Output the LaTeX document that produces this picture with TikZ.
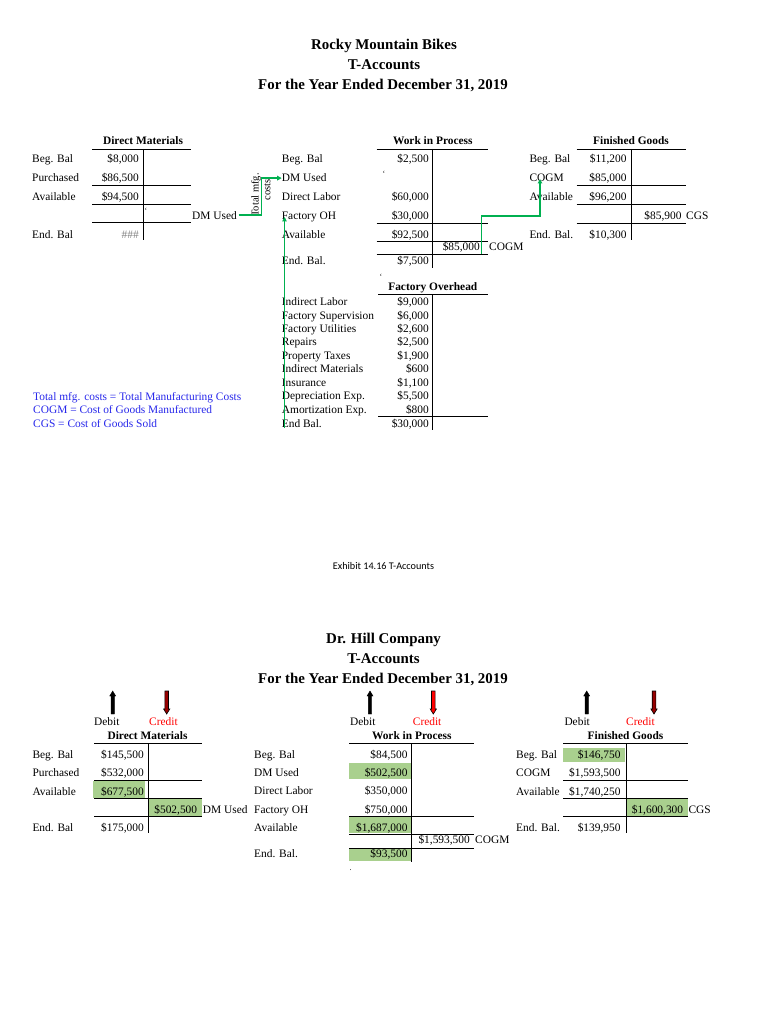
\documentclass[tikz,border=0pt]{standalone}
\usepackage{fontspec}
\setmainfont{Liberation Serif}
\newfontfamily\calibfont{Carlito}
\usetikzlibrary{arrows.meta}
\definecolor{xlgreen}{RGB}{169,208,142}
\definecolor{arrgreen}{RGB}{0,176,80}
\definecolor{legblue}{RGB}{40,40,235}
\definecolor{credred}{RGB}{255,0,0}
\definecolor{darkcred}{RGB}{150,0,0}
\newcommand{\bodyfs}{\fontsize{11.4}{13.5}\selectfont}
\begin{document}
\begin{tikzpicture}[x=1pt,y=-1pt,
  every node/.style={inner sep=0pt},
  lbl/.style={anchor=base west,font=\bodyfs},
  val/.style={anchor=base east,font=\bodyfs},
  hdr/.style={anchor=base,font=\bodyfs\bfseries},
  ttl/.style={anchor=base,font=\fontsize{14.9}{17}\selectfont\bfseries},
  leg/.style={anchor=base west,font=\bodyfs,text=legblue},
  tick/.style={font=\fontsize{8}{9}\selectfont},
  tline/.style={line width=0.7pt},
  gconn/.style={draw=arrgreen,line width=1.4pt,-{Triangle[length=4.5pt,width=4.5pt]}},
  cellfill/.style={fill=xlgreen},
  uparr/.pic={\filldraw[fill=black,draw=black,line width=0.4pt] (-1.7,0) -- (-1.7,-18) -- (-3,-18) -- (0,-23) -- (3,-18) -- (1.7,-18) -- (1.7,0) -- cycle;},
  dnarr/.pic={\filldraw[fill=#1,draw=black,line width=0.6pt] (-1.8,0) -- (-1.8,18) -- (-3.1,18) -- (0,23) -- (3.1,18) -- (1.8,18) -- (1.8,0) -- cycle;}
]
\fill[white] (0,0) rectangle (768,1024);
\useasboundingbox (0,0) rectangle (768,1024);

% ---------------- Top titles
\node[ttl] (t1) at (384,50) {Rocky Mountain Bikes};
\node[ttl] (t2) at (384,70) {T-Accounts};
\node[ttl] (t3) at (383,90) {For the Year Ended December 31, 2019};

% ---------------- Top Direct Materials
\node[hdr] (dmh) at (143,145) {Direct Materials};
\draw[tline] (92,149) -- (191,149);
\draw[tline] (92,185) -- (191,185);
\draw[tline] (92,204) -- (191,204);
\draw[tline] (92,222.7) -- (191,222.7);
\draw[tline] (143.3,149) -- (143.3,240);
\node[lbl] (dm1l) at (32,163) {Beg. Bal};
\node[lbl] (dm2l) at (32,182) {Purchased};
\node[lbl] (dm3l) at (32,200.7) {Available};
\node[lbl] (dm5l) at (32,238) {End. Bal};
\node[val] (dm1v) at (139,163) {\$8,000};
\node[val] (dm2v) at (139,182) {\$86,500};
\node[val] (dm3v) at (139,200.7) {\$94,500};
\node[val,text=gray] (dm5v) at (139,238) {\#\#\#};
\node[lbl] (dmuse) at (192,219) {DM Used};
\node[tick] (dmtick) at (146,211) {`};

% rotated text
\node[font=\fontsize{10.5}{12}\selectfont,rotate=90] (tmfg1) at (256,195) {Total mfg.};
\node[font=\fontsize{10.5}{12}\selectfont,rotate=90] (tmfg2) at (267.5,190) {costs};

% ---------------- Top Work in Process
\node[hdr] (wh) at (432.8,145) {Work in Process};
\draw[tline] (376.7,149) -- (488,149);
\draw[tline] (376.7,223) -- (488,223);
\draw[tline] (376.7,241) -- (488,241);
\draw[tline] (376.7,254) -- (488,254);
\draw[tline] (432.7,149) -- (432.7,268);
\node[lbl] (wbl) at (281.7,163) {Beg. Bal};
\node[lbl] (wdml) at (281.7,182) {DM Used};
\node[lbl] (wdll) at (281.7,201) {Direct Labor};
\node[lbl] (wfohl) at (281.7,219) {Factory OH};
\node[lbl] (wavl) at (281.7,238) {Available};
\node[lbl] (wendl) at (281.7,264) {End. Bal.};
\node[val] (wbv) at (429,163) {\$2,500};
\node[val] (wdlv) at (429,201) {\$60,000};
\node[val] (wfohv) at (429,219) {\$30,000};
\node[val] (wavv) at (429,238) {\$92,500};
\node[val] (wendv) at (429,264) {\$7,500};
\node[val] (wcogmv) at (480,250) {\$85,000};
\node[lbl] (wcogml) at (489,250) {COGM};
\node[tick] (wtick) at (384,174) {`};

% ---------------- Top Finished Goods
\node[hdr] (fh) at (631,145) {Finished Goods};
\draw[tline] (576.7,149) -- (685.7,149);
\draw[tline] (576.7,185) -- (685.7,185);
\draw[tline] (576.7,204) -- (685.7,204);
\draw[tline] (576.7,223) -- (685.7,223);
\draw[tline] (631.7,149) -- (631.7,240);
\node[lbl] (fbl) at (529.3,163) {Beg. Bal};
\node[lbl] (fcogml) at (529.3,182) {COGM};
\node[lbl] (favl) at (529.3,201) {Available};
\node[lbl] (fendl) at (529.3,238) {End. Bal.};
\node[val] (fbv) at (626.7,163) {\$11,200};
\node[val] (fcogmv) at (626.7,182) {\$85,000};
\node[val] (favv) at (626.7,201) {\$96,200};
\node[val] (fendv) at (626.7,238) {\$10,300};
\node[val] (fcgsv) at (681.7,219) {\$85,900};
\node[lbl] (fcgsl) at (686,219) {CGS};

% ---------------- Factory Overhead
\node[tick] (ftick) at (381,277) {`};
\node[hdr] (oh) at (432.8,290.7) {Factory Overhead};
\draw[tline] (378,294) -- (488,294);
\draw[tline] (378,416.7) -- (488,416.7);
\draw[tline] (432.3,294) -- (432.3,430);
\node[lbl] (o1l) at (281.7,305) {Indirect Labor};
\node[lbl] (o2l) at (281.7,319) {Factory Supervision};
\node[lbl] (o3l) at (281.7,332) {Factory Utilities};
\node[lbl] (o4l) at (281.7,345.7) {Repairs};
\node[lbl] (o5l) at (281.7,359.7) {Property Taxes};
\node[lbl] (o6l) at (281.7,372.7) {Indirect Materials};
\node[lbl] (o7l) at (281.7,386.7) {Insurance};
\node[lbl] (o8l) at (281.7,399.7) {Depreciation Exp.};
\node[lbl] (o9l) at (281.7,413) {Amortization Exp.};
\node[lbl] (o10l) at (281.7,427) {End Bal.};
\node[val] (o1v) at (429,305) {\$9,000};
\node[val] (o2v) at (429,319) {\$6,000};
\node[val] (o3v) at (429,332) {\$2,600};
\node[val] (o4v) at (429,345.7) {\$2,500};
\node[val] (o5v) at (429,359.7) {\$1,900};
\node[val] (o6v) at (429,372.7) {\$600};
\node[val] (o7v) at (429,386.7) {\$1,100};
\node[val] (o8v) at (429,399.7) {\$5,500};
\node[val] (o9v) at (429,413) {\$800};
\node[val] (o10v) at (429,427) {\$30,000};

% ---------------- Green connectors (top)
\coordinate (j1) at (261.7,200);
\draw[gconn,shorten <=1.5pt] (dmuse.east) -| (j1) |- (wdml.west);
\coordinate (c2a) at (481.7,254);
\coordinate (c2b) at (481.7,216);
\coordinate (c2e) at (540,179);
\draw[gconn] (c2a) -- (c2b) -| (c2e);
\coordinate (c3s) at (284.5,428);
\coordinate (c3e) at (284.5,217);
\draw[gconn] (c3s) -- (c3e);

% ---------------- Legend
\node[leg] (lg1) at (33,400) {Total mfg. costs = Total Manufacturing Costs};
\node[leg] (lg2) at (33,413.3) {COGM = Cost of Goods Manufactured};
\node[leg] (lg3) at (33,427.3) {CGS = Cost of Goods Sold};

% ---------------- Exhibit caption
\node[anchor=base,font=\calibfont\fontsize{10.2}{12}\selectfont] (exh) at (383.5,569.5) {Exhibit 14.16 T-Accounts};

% ---------------- Bottom titles
\node[ttl] (b1) at (383.5,643) {Dr. Hill Company};
\node[ttl] (b2) at (383.5,663) {T-Accounts};
\node[ttl] (b3) at (383,683) {For the Year Ended December 31, 2019};

% ---------------- Bottom Direct Materials
\fill[cellfill] (93.3,781) rectangle (145,797.5);
\fill[cellfill] (148.3,799.3) rectangle (202.3,815.7);
\pic at (112.7,714) {uparr};
\pic at (166.7,691) {dnarr=darkcred};
\node[lbl] (bdmdeb) at (94,725) {Debit};
\node[lbl,text=credred] (bdmcred) at (149,725) {Credit};
\node[hdr] (bdmh) at (147.5,739.7) {Direct Materials};
\draw[tline] (94,743.3) -- (202,743.3);
\draw[tline] (94,780) -- (202,780);
\draw[tline] (94,798.3) -- (202,798.3);
\draw[tline] (94,816) -- (202,816);
\draw[tline] (148.3,743.3) -- (148.3,833);
\node[lbl] (bdm1l) at (32.3,758.3) {Beg. Bal};
\node[lbl] (bdm2l) at (32.3,776.7) {Purchased};
\node[lbl] (bdm3l) at (32.3,795) {Available};
\node[lbl] (bdm5l) at (32.3,831.3) {End. Bal};
\node[val] (bdm1v) at (144,758.3) {\$145,500};
\node[val] (bdm2v) at (144,776.7) {\$532,000};
\node[val] (bdm3v) at (144,795) {\$677,500};
\node[val] (bdm5v) at (144,831.3) {\$175,000};
\node[val] (bdm4v) at (197.3,813) {\$502,500};
\node[lbl] (bdm4l) at (202.7,813) {DM Used};

% ---------------- Bottom Work in Process
\fill[cellfill] (349,763.3) rectangle (411.7,779);
\fill[cellfill] (349,817.3) rectangle (411.7,833.3);
\fill[cellfill] (349,848.3) rectangle (411.7,861);
\pic at (370,714) {uparr};
\pic at (433.3,691) {dnarr=credred};
\node[lbl] (bwdeb) at (350,725) {Debit};
\node[lbl,text=credred] (bwcred) at (412.7,725) {Credit};
\node[hdr] (bwh) at (411.8,739.7) {Work in Process};
\draw[tline] (349,743.3) -- (474.3,743.3);
\draw[tline] (349,816) -- (474.3,816);
\draw[tline] (349,834) -- (474.3,834);
\draw[tline] (349,848) -- (474.3,848);
\draw[tline] (411.7,743.3) -- (411.7,861.7);
\node[lbl] (bw1l) at (254,758.3) {Beg. Bal};
\node[lbl] (bw2l) at (254,776.3) {DM Used};
\node[lbl] (bw3l) at (254,794.7) {Direct Labor};
\node[lbl] (bw4l) at (254,813) {Factory OH};
\node[lbl] (bw5l) at (254,831.3) {Available};
\node[lbl] (bw6l) at (254,857.3) {End. Bal.};
\node[val] (bw1v) at (407.7,758.3) {\$84,500};
\node[val] (bw2v) at (407.7,776.3) {\$502,500};
\node[val] (bw3v) at (407.7,794.7) {\$350,000};
\node[val] (bw4v) at (407.7,813) {\$750,000};
\node[val] (bw5v) at (407.7,831.3) {\$1,687,000};
\node[val] (bw6v) at (407.7,857.3) {\$93,500};
\node[val] (bwcogmv) at (470,843.3) {\$1,593,500};
\node[lbl] (bwcogml) at (475,843.3) {COGM};
\node[tick] (bwtick) at (350.5,870) {.};

% ---------------- Bottom Finished Goods
\fill[cellfill] (563.3,747.7) rectangle (625.3,761.7);
\fill[cellfill] (626.7,799.3) rectangle (687.7,815.7);
\pic at (586.7,714) {uparr};
\pic at (654,691) {dnarr=darkcred};
\node[lbl] (bfdeb) at (564.3,725) {Debit};
\node[lbl,text=credred] (bfcred) at (626,725) {Credit};
\node[hdr] (bfh) at (625.5,739.7) {Finished Goods};
\draw[tline] (563.3,743.3) -- (687.7,743.3);
\draw[tline] (563.3,780) -- (687.7,780);
\draw[tline] (563.3,798.3) -- (687.7,798.3);
\draw[tline] (563.3,816) -- (687.7,816);
\draw[tline] (626,743.3) -- (626,833);
\node[lbl] (bf1l) at (516,758.3) {Beg. Bal};
\node[lbl] (bf2l) at (516,776.7) {COGM};
\node[lbl] (bf3l) at (516,795) {Available};
\node[lbl] (bf5l) at (516,831.3) {End. Bal.};
\node[val] (bf1v) at (620.7,758.3) {\$146,750};
\node[val] (bf2v) at (620.7,776.7) {\$1,593,500};
\node[val] (bf3v) at (620.7,795) {\$1,740,250};
\node[val] (bf5v) at (620.7,831.3) {\$139,950};
\node[val] (bf4v) at (683.3,813) {\$1,600,300};
\node[lbl] (bf4l) at (688.3,813) {CGS};
\end{tikzpicture}
\end{document}
